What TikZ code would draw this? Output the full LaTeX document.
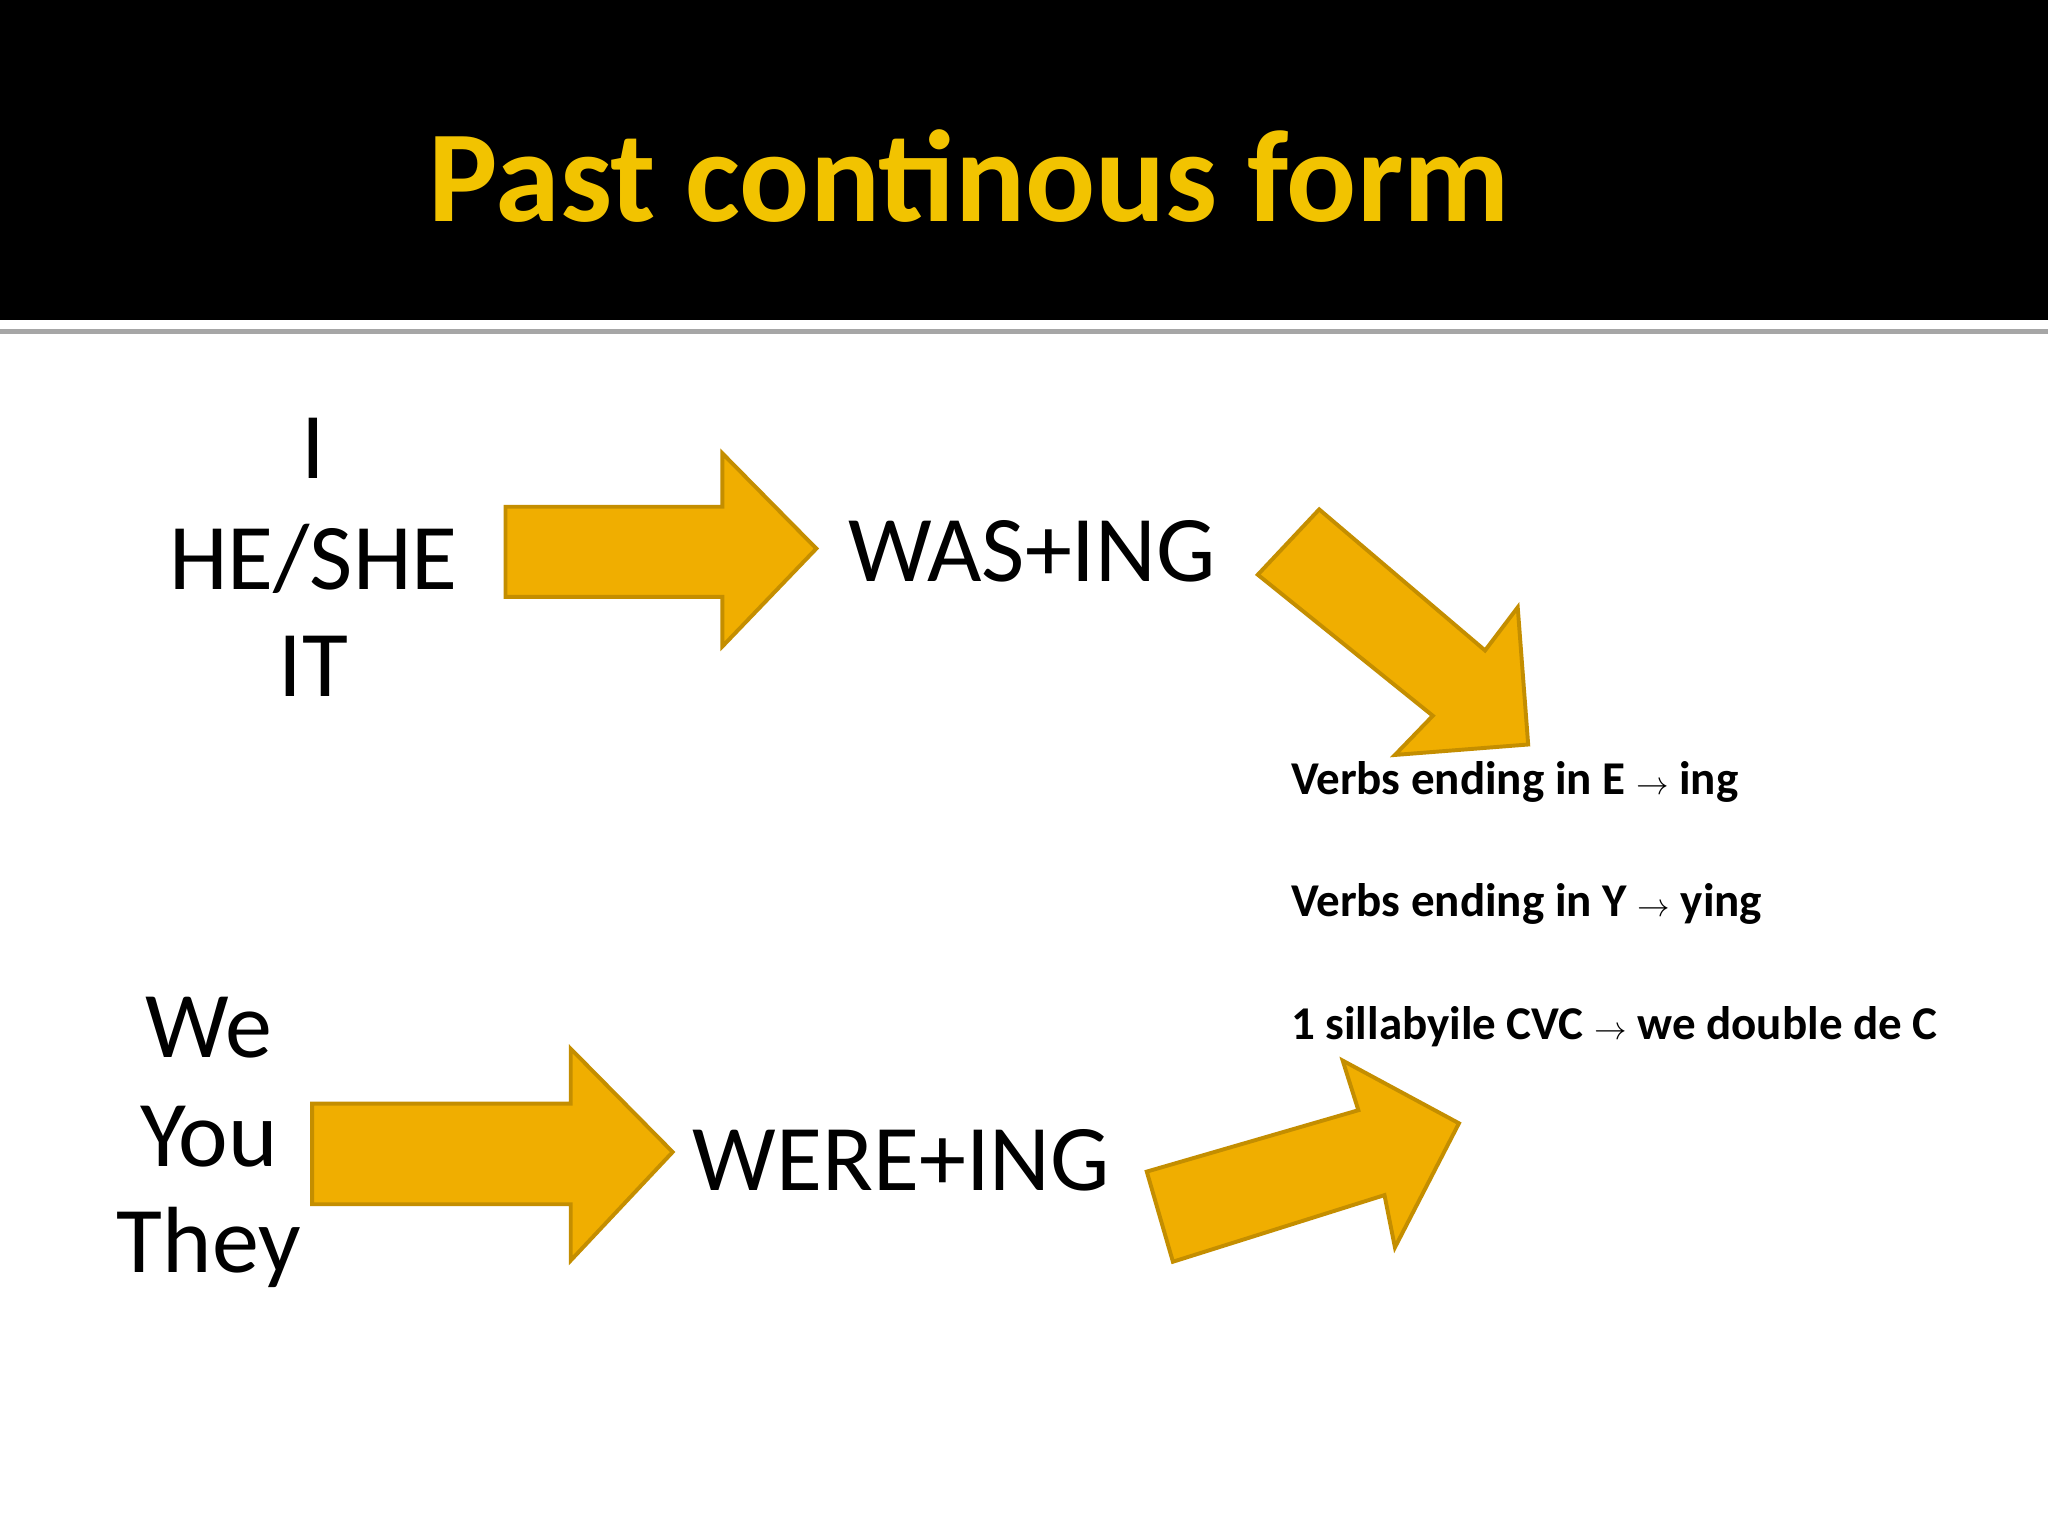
\documentclass[tikz,border=0pt]{standalone}
\usepackage{fontspec}
\setmainfont{Carlito}
\begin{document}
\begin{tikzpicture}[x=1pt,y=-1pt,
  blk/.style={fill=arrowfill,draw=arrowedge,line width=3pt,line join=miter},
  big/.style={font=\fontsize{72}{80}\selectfont,text=black},
  rule/.style={font=\bfseries\fontsize{36}{40}\selectfont,anchor=base west}]
\definecolor{arrowfill}{HTML}{F0AE00}
\definecolor{arrowedge}{HTML}{C48E00}
\definecolor{titley}{HTML}{F2C300}
\useasboundingbox (0,0) rectangle (1568,1176);
\fill[white] (0,0) rectangle (1568,1176);
\fill[black] (0,0) rectangle (1568,245);
\fill[gray!70] (0,252) rectangle (1568,256);
\node[font=\bfseries\fontsize{100}{110}\selectfont,text=titley] (title) at (742,135) {Past continous form};
% left group 1
\node[big] (i) at (240,343) {I};
\node[big] (he) at (240,428) {HE/SHE};
\node[big] (it) at (240,510) {IT};
\node[big] (was) at (790,422) {WAS+ING};
% group 2
\node[big] (we) at (160,787) {We};
\node[big] (you) at (160,870) {You};
\node[big] (they) at (160,955) {They};
\node[big] (were) at (690,888) {WERE+ING};
% arrows
\draw[blk] (387,388) -- (553,388) -- (553,347) -- (625,420) -- (553,495) -- (553,457) -- (387,457) -- cycle;
\draw[blk] (1010,390) -- (1137,498) -- (1162,465) -- (1170,570) -- (1068,578) -- (1097,548) -- (963,440) -- cycle;
\draw[blk] (239,845) -- (437,845) -- (437,803) -- (515,882) -- (437,965) -- (437,922) -- (239,922) -- cycle;
\draw[blk] (878,897) -- (1040,850) -- (1028,812) -- (1117,860) -- (1068,955) -- (1060,915) -- (898,966) -- cycle;
% rules
\node[rule] (r1) at (985,608) {Verbs ending in E $\rightarrow$ ing};
\node[rule] (r2) at (985,702) {Verbs ending in Y $\rightarrow$ ying};
\node[rule] (r3) at (985,796) {1 sillabyile CVC $\rightarrow$ we double de C};
\end{tikzpicture}
\end{document}
